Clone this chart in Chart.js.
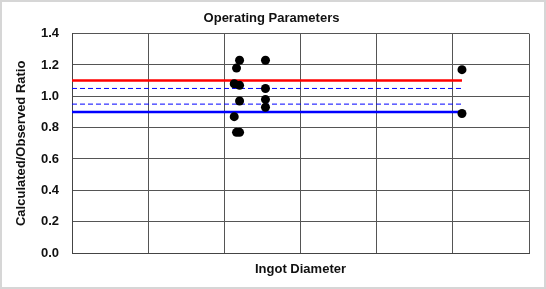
<!DOCTYPE html>
<html lang="en">
<head>
  <meta charset="UTF-8" />
  <title>Operating Parameters</title>
  <script src="https://cdn.jsdelivr.net/npm/chart.js"></script>
  <style>
    body { margin: 0; background: #fff; }
    canvas { display: block; }
  </style>
</head>
<body>
  <canvas id="chart" width="546" height="289"></canvas>

  <script>
    // measured points (x in grid units, y = calculated/observed ratio)
    const diameters = [2.20, 2.16, 2.13, 2.20, 2.20, 2.13, 2.16, 2.20, 2.54, 2.54, 2.54, 2.54, 5.12, 5.12];
    const ratios     = [1.23, 1.18, 1.08, 1.07, 0.97, 0.87, 0.77, 0.77, 1.23, 1.05, 0.98, 0.93, 1.17, 0.89];

    // reference lines
    const lineStart = 0;
    const lineEnd = 5.12;
    const upperLimit = 1.10;
    const upperBand = 1.05;
    const lowerBand = 0.95;
    const lowerLimit = 0.90;

    const yTicks = [0, 0.2, 0.4, 0.6, 0.8, 1.0, 1.2, 1.4];

    const points = diameters.map((d, i) => ({ x: d, y: ratios[i] }));
    const refLine = (v) => [{ x: lineStart, y: v }, { x: lineEnd, y: v }];

    const frame = {
      id: "frame",
      beforeDraw(chart) {
        const ctx = chart.ctx;
        ctx.save();
        ctx.fillStyle = "#fff";
        ctx.fillRect(0, 0, chart.width, chart.height);
        ctx.strokeStyle = "#d6d6d6";
        ctx.lineWidth = 2;
        ctx.strokeRect(1, 1, chart.width - 2, chart.height - 2);
        ctx.restore();
      }
    };

    const font13 = { family: "Arial, 'Liberation Sans', sans-serif", size: 13, weight: "bold" };

    new Chart(document.getElementById("chart"), {
      type: "scatter",
      data: {
        datasets: [
          {
            data: points,
            backgroundColor: "#000",
            borderWidth: 0,
            pointRadius: 4.5,
            showLine: false
          },
          { type: "line", data: refLine(upperLimit), borderColor: "#ff0000", borderWidth: 2.5, pointRadius: 0 },
          { type: "line", data: refLine(upperBand), borderColor: "#0000ff", borderWidth: 1, borderDash: [5, 3], pointRadius: 0 },
          { type: "line", data: refLine(lowerBand), borderColor: "#0000ff", borderWidth: 1, borderDash: [5, 3], pointRadius: 0 },
          { type: "line", data: refLine(lowerLimit), borderColor: "#0000ff", borderWidth: 2.5, pointRadius: 0 }
        ]
      },
      options: {
        responsive: false,
        animation: false,
        layout: { padding: { left: 14, right: 17, top: 0, bottom: 0 } },
        plugins: {
          legend: { display: false },
          tooltip: { enabled: false },
          title: {
            display: true,
            text: "Operating Parameters",
            color: "#111",
            font: font13,
            padding: { top: 11, bottom: 7 }
          }
        },
        scales: {
          x: {
            type: "linear",
            min: 0,
            max: 6,
            ticks: { stepSize: 1, display: false },
            grid: { color: "#555", lineWidth: 1, drawTicks: false },
            border: { color: "#444", width: 1 },
            title: { display: true, text: "Ingot Diameter", color: "#111", font: font13, padding: { top: 0, bottom: 12 } },
            afterFit(scale) { scale.height = 36; }
          },
          y: {
            min: 0,
            max: 1.4,
            afterBuildTicks(scale) { scale.ticks = yTicks.map(v => ({ value: v })); },
            ticks: {
              color: "#111",
              font: font13,
              padding: 13,
              callback: (v) => Number(v).toFixed(1)
            },
            grid: { color: "#555", lineWidth: 1, drawTicks: false },
            border: { color: "#444", width: 1 },
            title: { display: true, text: "Calculated/Observed Ratio", color: "#111", font: font13, padding: { top: 0, bottom: 0 } },
            afterFit(scale) { scale.width = 58; }
          }
        }
      },
      plugins: [frame]
    });
  </script>
</body>
</html>
